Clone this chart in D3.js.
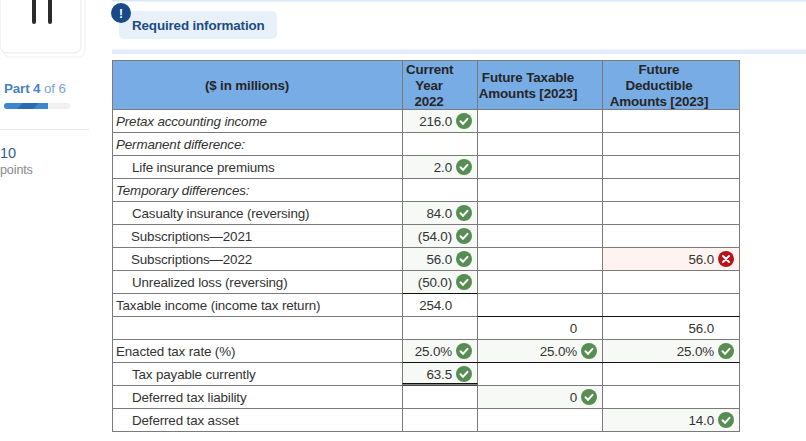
<!DOCTYPE html>
<html>
<head>
<meta charset="utf-8">
<script src="https://cdnjs.cloudflare.com/ajax/libs/d3/7.8.5/d3.min.js"></script>
<style>
  html, body { margin: 0; padding: 0; background: #fff; }
  svg { display: block; font-family: "Liberation Sans", Arial, sans-serif; letter-spacing: -0.14px; }
</style>
</head>
<body>
<div id="chart"></div>
<script>
// table contents
var headers = [["($ in millions)"], ["Current", "Year", "2022"], ["Future Taxable", "Amounts [2023]"], ["Future", "Deductible", "Amounts [2023]"]];
var rowLabels = ["Pretax accounting income", "Permanent difference:", "Life insurance premiums", "Temporary differences:",
  "Casualty insurance (reversing)", "Subscriptions\u20142021", "Subscriptions\u20142022", "Unrealized loss (reversing)",
  "Taxable income (income tax return)", "", "Enacted tax rate (%)", "Tax payable currently", "Deferred tax liability", "Deferred tax asset"];
var rowKinds = ["italic", "italic", "sub", "italic", "sub", "sub2", "sub2", "sub", "plain", "plain", "plain", "sub", "sub", "sub"];
var currentYear = ["216.0", "", "2.0", "", "84.0", "(54.0)", "56.0", "(50.0)", "254.0", "", "25.0%", "63.5", "", ""];
var futureTaxable = ["", "", "", "", "", "", "", "", "", "0", "25.0%", "", "0", ""];
var futureDeductible = ["", "", "", "", "", "", "56.0", "", "", "56.0", "25.0%", "", "", "14.0"];
// y = correct, n = wrong, blank = no mark
var currentMarks = ["y", "", "y", "", "y", "y", "y", "y", "", "", "y", "y", "", ""];
var taxableMarks = ["", "", "", "", "", "", "", "", "", "", "y", "", "y", ""];
var deductibleMarks = ["", "", "", "", "", "", "n", "", "", "", "y", "", "", "y"];
var columnEdges = [112.5, 402.5, 477.5, 602.5, 739.5];

var width = 806, height = 441;
var grey = "#7a7a7a", ink = "#333333", headInk = "#262626", fontSize = 13.4;

var svg = d3.select("#chart").append("svg").attr("width", width).attr("height", height);

// one row scale for the body, the header sits above it
var y = d3.scaleLinear().domain([0, rowLabels.length]).range([109.5, 431.5]);
var tableTop = 60.5;
var numeric = [currentYear, futureTaxable, futureDeductible];
var marks = [currentMarks, taxableMarks, deductibleMarks];
var textRight = [452, 577, 714];

drawSidebar();
drawBanner();
drawTable();

function drawSidebar() {
  var g = svg.append("g");
  g.append("path").attr("d", "M3,0V50a7,7 0 0 0 7,7H78a7,7 0 0 0 7,-7V0").attr("fill", "none").attr("stroke", "#f0f0f0");
  g.append("path").attr("d", "M0,0V46a7,7 0 0 0 7,7H74a7,7 0 0 0 7,-7V0").attr("fill", "#fff").attr("stroke", "#e8e8e8");
  g.selectAll("path.stroke").data([34, 50]).join("path").attr("class", "stroke")
    .attr("d", function(d) { return "M" + d + ",0V22"; })
    .attr("stroke", "#2b2b2b").attr("stroke-width", 4).attr("stroke-linecap", "round");
  var part = g.append("text").attr("x", 4).attr("y", 93).attr("font-size", fontSize).attr("fill", "#7ba6d6");
  part.append("tspan").attr("font-weight", "bold").attr("fill", "#4a82c0").text("Part 4");
  part.append("tspan").text(" of 6");
  g.append("rect").attr("x", 4).attr("y", 103).attr("width", 66).attr("height", 6).attr("rx", 3).attr("fill", "#f1f1f1");
  g.append("path").attr("d", "M7,103H48V109H7a3,3 0 0 1 0,-6Z").attr("fill", "#3d87cf");
  g.append("path").attr("d", "M17,109L23,103H39L33,109Z").attr("fill", "#2a6bad");
  g.append("line").attr("x1", 0).attr("x2", 89).attr("y1", 129.5).attr("y2", 129.5).attr("stroke", "#e8e8e8");
  g.append("text").attr("x", 0).attr("y", 158).attr("font-size", 14.5).attr("fill", "#2f5f93").text("10");
  g.append("text").attr("x", 0).attr("y", 174).attr("font-size", 12.6).attr("fill", "#8a8a8a").text("points");
}

function drawBanner() {
  svg.append("rect").attr("x", 112).attr("y", 0).attr("width", 694).attr("height", 1.5).attr("fill", "#d8e8f8");
  svg.append("rect").attr("x", 119).attr("y", 11).attr("width", 158).attr("height", 28).attr("rx", 5).attr("fill", "#e8f0f9");
  svg.append("circle").attr("cx", 121).attr("cy", 13).attr("r", 10).attr("fill", "#174a86");
  svg.append("text").attr("x", 121).attr("y", 17.5).attr("text-anchor", "middle").attr("font-size", 12)
    .attr("font-weight", "bold").attr("fill", "#fff").text("!");
  svg.append("text").attr("x", 132).attr("y", 30).attr("font-size", fontSize).attr("font-weight", "bold")
    .attr("fill", "#1d4c82").text("Required information");
  svg.append("rect").attr("x", 112).attr("y", 49.5).attr("width", 694).attr("height", 4.5).attr("fill", "#e1edf9");
}

function drawTable() {
  var rows = d3.range(rowLabels.length);
  var head = svg.append("g");
  head.append("rect").attr("x", columnEdges[0]).attr("y", tableTop)
    .attr("width", columnEdges[4] - columnEdges[0]).attr("height", y(0) - tableTop).attr("fill", "#78ace5");

  // tinted answer cells
  var tint = svg.append("g");
  marks.forEach(function(col, c) {
    tint.selectAll(null).data(rows.filter(function(r) { return col[r]; })).join("rect")
      .attr("x", columnEdges[c + 1] + 0.5)
      .attr("y", function(r) { return y(r); })
      .attr("width", columnEdges[c + 2] - columnEdges[c + 1] - 1)
      .attr("height", function(r) { return y(r + 1) - y(r); })
      .attr("fill", function(r) { return col[r] === "n" ? "#fff3f1" : "#f6f9f6"; });
  });

  // grid
  var grid = svg.append("g").attr("stroke", grey).attr("stroke-width", 1);
  grid.selectAll("line.h").data([tableTop].concat(d3.range(rowLabels.length + 1).map(y))).join("line").attr("class", "h")
    .attr("x1", columnEdges[0] - 0.5).attr("x2", columnEdges[4] + 0.5)
    .attr("y1", function(d) { return d; }).attr("y2", function(d) { return d; });
  grid.selectAll("line.v").data(columnEdges).join("line").attr("class", "v")
    .attr("x1", function(d) { return d; }).attr("x2", function(d) { return d; })
    .attr("y1", tableTop).attr("y2", y(rowLabels.length));

  // black accounting rules: [row edge, first column, last column]
  var rules = [[8, 1, 2], [9, 2, 4], [11, 1, 4]];
  var ruleG = svg.append("g").attr("stroke", "#111").attr("stroke-width", 1);
  ruleG.selectAll("line").data(rules).join("line")
    .attr("x1", function(d) { return columnEdges[d[1]]; }).attr("x2", function(d) { return columnEdges[d[2]]; })
    .attr("y1", function(d) { return y(d[0]); }).attr("y2", function(d) { return y(d[0]); });
  ruleG.append("line").attr("x1", columnEdges[1]).attr("x2", columnEdges[2])
    .attr("y1", y(12) - 2).attr("y2", y(12) - 2);
  ruleG.append("line").attr("x1", columnEdges[1]).attr("x2", columnEdges[2])
    .attr("y1", y(12) - 0.5).attr("y2", y(12) - 0.5);

  // header text
  var centers = [247, 429, 528, 659];
  headers.forEach(function(lines, c) {
    var mid = (tableTop + y(0)) / 2;
    head.selectAll(null).data(lines).join("text")
      .attr("x", function(d, i) { return c === 1 && i === 0 ? 406 : centers[c]; })
      .attr("y", function(d, i) { return mid + 5 + (i - (lines.length - 1) / 2) * 16; })
      .attr("text-anchor", function(d, i) { return c === 1 && i === 0 ? "start" : "middle"; })
      .attr("font-size", fontSize).attr("font-weight", "bold").attr("fill", headInk).text(function(d) { return d; });
  });

  // row labels
  var indent = { italic: 116, plain: 116, sub: 132, sub2: 131 };
  svg.append("g").selectAll("text").data(rows).join("text")
    .attr("x", function(r) { return indent[rowKinds[r]]; })
    .attr("y", function(r) { return y(r) + 16.5; })
    .attr("font-size", fontSize).attr("fill", ink)
    .attr("font-style", function(r) { return rowKinds[r] === "italic" ? "italic" : "normal"; })
    .text(function(r) { return rowLabels[r]; });

  // values and marks
  numeric.forEach(function(col, c) {
    var g = svg.append("g");
    g.selectAll("text").data(rows.filter(function(r) { return col[r]; })).join("text")
      .attr("x", textRight[c]).attr("y", function(r) { return y(r) + 16.5; })
      .attr("text-anchor", "end").attr("font-size", fontSize).attr("fill", ink)
      .text(function(r) { return col[r]; });
    var icons = g.selectAll("g").data(rows.filter(function(r) { return marks[c][r]; })).join("g")
      .attr("transform", function(r) { return "translate(" + (textRight[c] + 12) + "," + (y(r) + 11.5) + ")"; });
    icons.append("circle").attr("r", 8).attr("fill", function(r) { return marks[c][r] === "n" ? "#b5141b" : "#578d52"; });
    icons.append("path")
      .attr("d", function(r) { return marks[c][r] === "n" ? "M-3,-3L3,3M3,-3L-3,3" : "M-3.5,0.3L-1,2.8L3.5,-2.2"; })
      .attr("fill", "none").attr("stroke", "#fff").attr("stroke-width", 2).attr("stroke-linecap", "round");
  });
}
</script>
</body>
</html>
